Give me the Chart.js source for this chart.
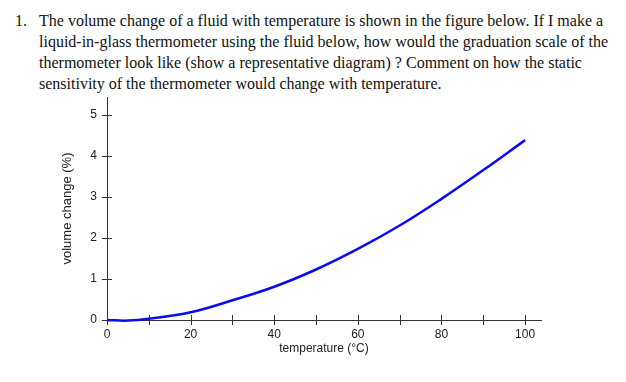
<!DOCTYPE html>
<html>
<head>
<meta charset="utf-8">
<script src="https://cdn.jsdelivr.net/npm/chart.js@4/dist/chart.umd.min.js"></script>
<style>
  html, body { margin:0; padding:0; background:#fff; }
  body { width:626px; height:382px; position:relative; overflow:hidden; }
  .q { position:absolute; font-family:"Liberation Serif","Times New Roman",serif; font-size:16px; line-height:21px; color:#111; white-space:nowrap; }
  #num { left:15px; top:10px; }
  #txt { left:39px; top:10px; }
  #wrap { position:absolute; left:0; top:0; width:626px; height:382px; }
</style>
</head>
<body>
<div class="q" id="num">1.</div>
<div class="q" id="txt">The volume change of a fluid with temperature is shown in the figure below. If I make a<br>liquid-in-glass thermometer using the fluid below, how would the graduation scale of the<br>thermometer look like (show a representative diagram) ? Comment on how the static<br>sensitivity of the thermometer would change with temperature.</div>
<div id="wrap"><canvas id="c" width="626" height="382"></canvas></div>
<script>
const temperatures = [0, 5, 10, 20, 30, 40, 50, 60, 70, 80, 90, 100];
const volumeChange = [0, -0.015, 0.03, 0.19, 0.48, 0.81, 1.23, 1.73, 2.3, 2.95, 3.65, 4.38];
const xTickValues = [0, 10, 20, 30, 40, 50, 60, 70, 80, 90, 100];
const xTickLabels = ['0', '', '20', '', '40', '', '60', '', '80', '', '100'];
const yTickValues = [0, 1, 2, 3, 4, 5];
const yTickLabels = ['0', '1', '2', '3', '4', '5'];
const xTitle = 'temperature (°C)';
const yTitle = 'volume change (%)';

const axisColor = '#333';
const crossTicks = {
  id: 'crossTicks',
  beforeDatasetsDraw(chart) {
    const { ctx, scales: { x, y }, chartArea } = chart;
    ctx.save();
    ctx.strokeStyle = axisColor;
    ctx.lineWidth = 1;
    x.ticks.forEach(t => {
      const px = Math.round(x.getPixelForValue(t.value)) + 0.5;
      ctx.beginPath(); ctx.moveTo(px, chartArea.bottom - 5); ctx.lineTo(px, chartArea.bottom + 5); ctx.stroke();
    });
    y.ticks.forEach(t => {
      const py = Math.round(y.getPixelForValue(t.value)) + 0.5;
      ctx.beginPath(); ctx.moveTo(chartArea.left - 5, py); ctx.lineTo(chartArea.left + 5, py); ctx.stroke();
    });
    ctx.restore();
  }
};

const font = { family: '"Liberation Sans", Arial, sans-serif', size: 12 };
new Chart(document.getElementById('c'), {
  type: 'line',
  data: {
    datasets: [{
      data: temperatures.map((t, i) => ({ x: t, y: volumeChange[i] })),
      borderColor: '#0a0af5',
      borderWidth: 2.5,
      pointRadius: 0,
      tension: 0.4,
      fill: false,
      clip: false
    }]
  },
  plugins: [crossTicks],
  options: {
    responsive: false,
    animation: false,
    events: [],
    layout: { padding: { left: 0, top: 97, right: 85, bottom: 17 } },
    plugins: { legend: { display: false }, tooltip: { enabled: false } },
    scales: {
      x: {
        type: 'linear', min: 0, max: 103.8,
        afterBuildTicks: s => { s.ticks = xTickValues.map(v => ({ value: v })); },
        afterFit: s => { s.height = 45; },
        grid: { display: false, drawTicks: false },
        border: { display: true, color: axisColor, width: 1 },
        ticks: { color: '#222', font, padding: 7, maxRotation: 0, autoSkip: false,
          callback: (v, i) => xTickLabels[xTickValues.indexOf(v)] },
        title: { display: true, text: xTitle, color: '#222', font: { family: font.family, size: 12 }, padding: { top: 0, bottom: 9 } }
      },
      y: {
        type: 'linear', min: 0, max: 5.43,
        afterBuildTicks: s => { s.ticks = yTickValues.map(v => ({ value: v })); },
        afterFit: s => { s.width = 107; },
        grid: { display: false, drawTicks: false },
        border: { display: true, color: axisColor, width: 1 },
        ticks: { color: '#222', font, padding: 10, autoSkip: false,
          callback: v => yTickLabels[yTickValues.indexOf(v)] },
        title: { display: true, text: yTitle, color: '#222', font: { family: font.family, size: 13 }, padding: { top: 60, bottom: 0 } }
      }
    }
  }
});
</script>
</body>
</html>
